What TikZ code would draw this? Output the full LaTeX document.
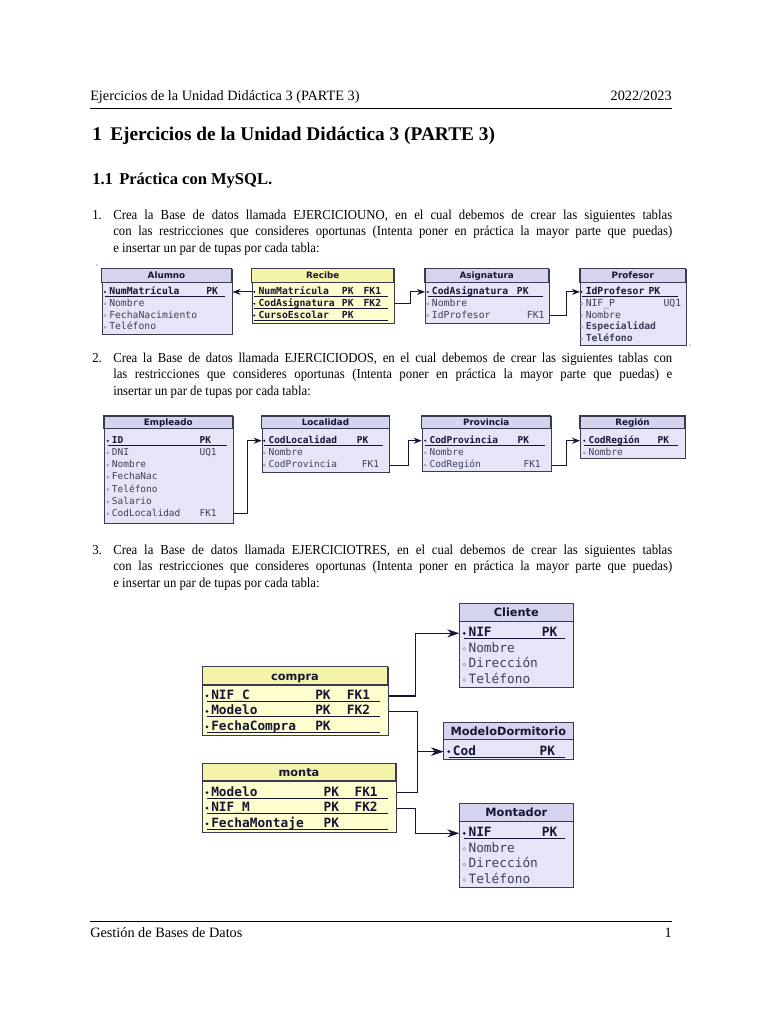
\documentclass[tikz,border=0pt]{standalone}
\usepackage{fontspec}
\setmainfont{Liberation Serif}
\newfontfamily\cuerpo{Liberation Serif}[FakeStretch=0.93]
\newfontfamily\mono{DejaVu Sans Mono}
\newfontfamily\tsans{DejaVu Sans}
\usetikzlibrary{arrows.meta}

\definecolor{borde}{RGB}{58,58,82}
\definecolor{lila}{RGB}{229,229,247}
\definecolor{lilacab}{RGB}{212,212,238}
\definecolor{crema}{RGB}{253,253,205}
\definecolor{cremacab}{RGB}{243,243,170}
\definecolor{tinta}{RGB}{22,22,52}
\definecolor{gris}{RGB}{62,62,88}

\newcommand{\ancho}{419.25pt}

% tabla: nombre, x, y, ancho, alto, alto cabecera, color, titulo
\newcommand{\tabla}[8]{%
  \node[caja, fill=#7, minimum width=#4*0.75pt, minimum height=#5*0.75pt] (#1) at (#2,#3) {};
  \filldraw[fill=#7cab, draw=borde, line width=0.8pt] (#2,#3) rectangle (#2+#4,#3+#6);
  \node[titulo] (#1-tit) at (#2+#4/2,#3+#6/2) {#8};
}

% filas: tabla, x nombre, x PK, x FK, fin subrayado, lista y/tipo/nombre/pk/fk
\newcommand{\filas}[6]{%
  \foreach \y/\tp/\nom/\pk/\fk [count=\idx] in {#6} {
    \node[fila, \tp] (#1-\idx) at (#2,\y) {\nom};
    \node[fila, \tp] (#1-\idx-pk) at (#3,\y) {\pk};
    \node[fila, \tp] (#1-\idx-fk) at (#4,\y) {\fk};
    \path[marca, marca \tp] (#1-\idx.west) ++(-4,0) circle;
    \path[linea \tp] (#1-\idx.base west) ++(-4,2) -- (#5,\y+2);
  }%
}

% enunciado: numero, y, tres renglones
\newcommand{\ejercicio}[5]{%
  \node[texto] (ej#1-num) at (92,#2) {#1.};
  \node[texto] (ej#1-a) at (113,#2) {\makebox[\ancho][s]{#3}};
  \node[texto] (ej#1-b) at (113,#2+16.5) {\makebox[\ancho][s]{#4}};
  \node[texto] (ej#1-c) at (113,#2+33) {#5};
}

\tikzset{
  caja/.style={draw=borde, line width=0.8pt, anchor=north west, inner sep=0pt},
  titulo/.style={anchor=center, inner sep=0pt, text=tinta, text height=5pt, text depth=0pt,
    font=\tsans\bfseries\fontsize{6.6}{7}\selectfont},
  fila/.style={anchor=base west, inner sep=0pt, text height=5.3pt, text depth=1.4pt,
    font=\mono\fontsize{7.3}{8}\selectfont},
  clave/.style={text=tinta, execute at begin node=\bfseries},
  obl/.style={text=gris, execute at begin node=\bfseries},
  nulo/.style={text=gris},
  marca/.style={radius=1.1},
  marca clave/.style={fill=tinta},
  marca obl/.style={draw=gris!60, line width=0.3pt},
  marca nulo/.style={draw=gris!60, line width=0.3pt},
  linea clave/.style={draw=tinta, line width=0.6pt},
  linea obl/.style={},
  linea nulo/.style={},
  fk/.style={draw=tinta, line width=0.7pt, -{Stealth[length=6pt, width=4.5pt]}},
  texto/.style={anchor=base west, inner sep=0pt, font=\cuerpo\fontsize{10.3}{12}\selectfont},
  cabecera/.style={anchor=base west, inner sep=0pt, font=\fontsize{10.7}{12}\selectfont},
}

\begin{document}
\begin{tikzpicture}[x=0.75pt, y=-0.75pt]

\fill[white] (0,0) rectangle (768,1024);
\useasboundingbox (0,0) rectangle (768,1024);

% Cabecera
\node[cabecera] (cab-izq) at (90,100) {Ejercicios de la Unidad Didáctica 3 (PARTE 3)};
\node[cabecera, anchor=base east] (cab-der) at (672,100) {2022/2023};
\draw[line width=0.6pt] (90,108) -- (672,108);

% Titulos
\node[cabecera, font=\bfseries\fontsize{14.5}{17}\selectfont] (sec-num) at (92,140.5) {1};
\node[cabecera, font=\bfseries\fontsize{14.5}{17}\selectfont] (sec) at (110,140.5) {Ejercicios de la Unidad Didáctica 3 (PARTE 3)};
\node[cabecera, font=\bfseries\fontsize{12.4}{14}\selectfont] (sub-num) at (92,184.5) {1.1};
\node[cabecera, font=\bfseries\fontsize{12.4}{14}\selectfont] (sub) at (119,184.5) {Práctica con MySQL.};

% Ejercicio 1
\ejercicio{1}{219}{Crea la Base de datos llamada EJERCICIOUNO, en el cual debemos de crear las siguientes tablas}{con las restricciones que consideres oportunas (Intenta poner en práctica la mayor parte que puedas)}{e insertar un par de tupas por cada tabla:}

\fill[gris] (97,265) circle (0.7);
\tabla{alumno}{101.5}{268.5}{130}{65}{14}{lila}{Alumno}
\filas{alumno}{109}{206}{206}{225}{294.5/clave/NumMatrícula/PK/{}, 306.3/nulo/Nombre/{}/{}, 318.1/nulo/FechaNacimiento/{}/{}, 329.9/nulo/Teléfono/{}/{}}

\tabla{recibe}{251.5}{268.5}{142.5}{54}{14}{crema}{Recibe}
\filas{recibe}{258.3}{341.7}{363.3}{388.3}{294.5/clave/NumMatrícula/PK/FK1, 306.3/clave/CodAsignatura/PK/FK2, 318.1/clave/CursoEscolar/PK/{}}

\tabla{asignatura}{425}{268.5}{123.5}{54}{14}{lila}{Asignatura}
\filas{asignatura}{431.7}{516.7}{526.7}{543.3}{294.5/clave/CodAsignatura/PK/{}, 306.3/nulo/Nombre/{}/{}, 318.1/nulo/IdProfesor/{}/FK1}

\tabla{profesor}{580}{268.5}{105.5}{76}{14}{lila}{Profesor}
\filas{profesor}{585.5}{648.3}{663.3}{678.3}{294.5/clave/IdProfesor/PK/{}, 306.3/nulo/NIF\_P/{}/UQ1, 318.1/nulo/Nombre/{}/{}, 329.9/obl/Especialidad/{}/{}, 341.7/obl/Teléfono/{}/{}}
\fill[gris] (690,345) circle (0.7);

\draw[fk] (recibe.west |- recibe-1) -- (alumno.east |- recibe-1);
\draw[fk] (recibe.east |- recibe-2) -- ++(15,0) |- (asignatura.west |- asignatura-1);
\draw[fk] (asignatura.east |- asignatura-3) -- ++(16.5,0) |- (profesor.west |- profesor-1);

% Ejercicio 2
\ejercicio{2}{362}{Crea la Base de datos llamada EJERCICIODOS, en el cual debemos de crear las siguientes tablas con}{las restricciones que consideres oportunas (Intenta poner en práctica la mayor parte que puedas) e}{insertar un par de tupas por cada tabla:}

\begin{scope}[fila/.append style={font=\mono\fontsize{7.1}{8}\selectfont}]
\tabla{empleado}{104}{416}{128.7}{107}{12.3}{lila}{Empleado}
\filas{empleado}{111.7}{199.3}{199.3}{226.7}{443.3/clave/ID/PK/{}, 455.5/nulo/DNI/UQ1/{}, 467.7/nulo/Nombre/{}/{}, 479.9/nulo/FechaNac/{}/{}, 492.1/nulo/Teléfono/{}/{}, 504.3/nulo/Salario/{}/{}, 516.5/nulo/CodLocalidad/{}/FK1}

\tabla{localidad}{261.7}{416}{127.6}{55.7}{12.3}{lila}{Localidad}
\filas{localidad}{268.3}{356.7}{361.7}{383.3}{443.3/clave/CodLocalidad/PK/{}, 455.5/nulo/Nombre/{}/{}, 467.7/nulo/CodProvincia/{}/FK1}

\tabla{provincia}{421.7}{416}{129}{54.7}{12.3}{lila}{Provincia}
\filas{provincia}{429.3}{517.3}{523.3}{545}{443.3/clave/CodProvincia/PK/{}, 455.5/nulo/Nombre/{}/{}, 467.7/nulo/CodRegión/{}/FK1}

\tabla{region}{580}{416}{105}{42.3}{12.3}{lila}{Región}
\filas{region}{588.3}{657.3}{657.3}{678.3}{443.3/clave/CodRegión/PK/{}, 455.5/nulo/Nombre/{}/{}}

\draw[fk] (empleado.east |- empleado-7) -- ++(14,0) |- (localidad.west |- localidad-1);
\draw[fk] (localidad.east |- localidad-3) -- ++(18,0) |- (provincia.west |- provincia-1);
\draw[fk] (provincia.east |- provincia-3) -- ++(14.3,0) |- (region.west |- region-1);
\end{scope}

% Ejercicio 3
\ejercicio{3}{554}{Crea la Base de datos llamada EJERCICIOTRES, en el cual debemos de crear las siguientes tablas}{con las restricciones que consideres oportunas (Intenta poner en práctica la mayor parte que puedas)}{e insertar un par de tupas por cada tabla:}

\begin{scope}[titulo/.append style={font=\tsans\bfseries\fontsize{8.5}{9}\selectfont, text height=6.5pt},
  fila/.append style={font=\mono\fontsize{9.6}{11}\selectfont, text height=7pt, text depth=1.9pt},
  marca/.style={radius=1.5},
  fk/.append style={line width=0.9pt, -{Stealth[length=9pt, width=6pt]}}]
\tabla{cliente}{459.3}{603.3}{114}{84}{18.4}{lila}{Cliente}
\filas{cliente}{468.3}{541.7}{541.7}{565}{636.7/clave/NIF/PK/{}, 652.3/nulo/Nombre/{}/{}, 667.9/nulo/Dirección/{}/{}, 683.5/nulo/Teléfono/{}/{}}

\tabla{compra}{202.3}{666.7}{185.4}{68.3}{18.3}{crema}{compra}
\filas{compra}{211}{315}{346.7}{380}{699.3/clave/NIF\_C/PK/FK1, 714.8/clave/Modelo/PK/FK2, 730.3/clave/FechaCompra/PK/{}}

\tabla{modelo}{443.3}{722.7}{130}{36.6}{16.6}{lila}{ModeloDormitorio}
\filas{modelo}{452.7}{539.3}{539.3}{565}{755/clave/Cod/PK/{}}

\tabla{monta}{202.3}{763.3}{193.4}{68.4}{17.7}{crema}{monta}
\filas{monta}{211}{323.3}{354.3}{388.3}{796/clave/Modelo/PK/FK1, 811.6/clave/NIF\_M/PK/FK2, 827.2/clave/FechaMontaje/PK/{}}

\tabla{montador}{459.3}{803.3}{114}{83.4}{18.4}{lila}{Montador}
\filas{montador}{468.3}{541.7}{541.7}{565}{836.7/clave/NIF/PK/{}, 852.3/nulo/Nombre/{}/{}, 867.9/nulo/Dirección/{}/{}, 883.5/nulo/Teléfono/{}/{}}

\draw[fk] (compra.east |- compra-1) -- ++(26.5,0) |- (cliente.west |- cliente-1);
\draw[fk] (compra.east |- compra-2) -- ++(28.5,0) |- (modelo.west |- modelo-1);
\draw[fk] (monta.east |- monta-1) -- ++(20.5,0) |- (modelo.west |- modelo-1);
\draw[fk] (monta.east |- monta-2) -- ++(19,0) |- (montador.west |- montador-1);
\end{scope}

% Pie
\draw[line width=0.6pt] (90,921) -- (672,921);
\node[cabecera] (pie-izq) at (90,937) {Gestión de Bases de Datos};
\node[cabecera, anchor=base east] (pie-der) at (672,937) {1};

\end{tikzpicture}
\end{document}
